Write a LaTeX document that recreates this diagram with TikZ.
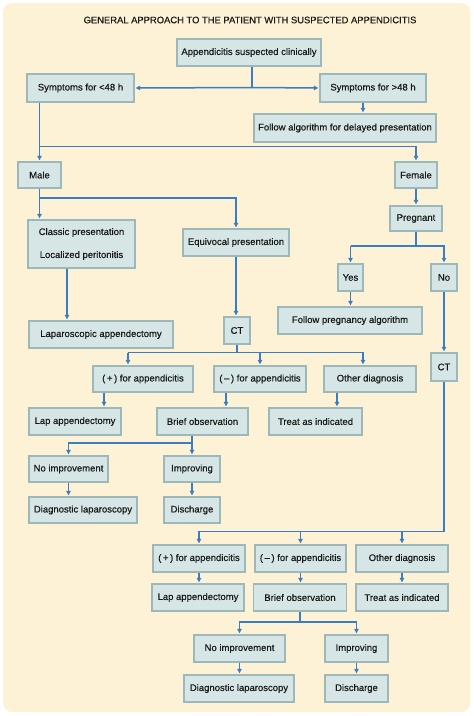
\documentclass[tikz,border=0pt]{standalone}
\usepackage{fontspec}
\setmainfont{Liberation Sans}
\newfontface\medfont{Liberation Sans}[FakeBold=0.45]
\usetikzlibrary{arrows.meta}
\definecolor{bgc}{HTML}{FEF2D6}
\definecolor{boxc}{HTML}{D6E6E6}
\definecolor{bordc}{HTML}{9CB8B8}
\definecolor{linec}{HTML}{3A7DC2}
\definecolor{txtc}{HTML}{1A1A1A}
\tikzset{
  box/.style={draw=bordc, fill=boxc, line width=1.8pt, inner sep=0pt, text=txtc,
    font=\medfont\fontsize{9.5pt}{11pt}\selectfont, align=center},
  ln/.style={draw=linec, line width=1.5pt},
  arr/.style={ln, -{Triangle[length=4.5pt,width=4.5pt]}, shorten >=0.8pt},
}
\begin{document}
\begin{tikzpicture}[x=1pt,y=-1pt]
\useasboundingbox (0,0) rectangle (474,716);
\fill[white] (0,0) rectangle (474,716);
\fill[bgc, rounded corners=9pt] (3,3) rectangle (470,712);
\node[text=txtc, font=\medfont\fontsize{9.4pt}{10pt}\selectfont] (title) at (250,20) {GENERAL APPROACH TO THE PATIENT WITH SUSPECTED APPENDICITIS};

% nodes
\node[box, minimum width=144pt, minimum height=27pt] (app) at (249,52.5) {Appendicitis suspected clinically};
\node[box, minimum width=107pt, minimum height=28pt] (s48l) at (80.5,88) {Symptoms for <48 h};
\node[box, minimum width=106pt, minimum height=28pt] (s48g) at (373,88) {Symptoms for >48 h};
\node[box, minimum width=182pt, minimum height=28pt] (delay) at (345,128) {Follow algorithm for delayed presentation};
\node[box, minimum width=43pt, minimum height=26pt] (male) at (39.5,175) {Male};
\node[box, minimum width=42pt, minimum height=26pt] (female) at (416,175) {Female};
\node[box, minimum width=52pt, minimum height=25pt] (preg) at (416,218.5) {Pregnant};
\node[box, minimum width=107pt, minimum height=48pt] (classic) at (81.5,244) {Classic presentation\\[12pt]Localized peritonitis};
\node[box, minimum width=106pt, minimum height=27pt] (equiv) at (236,242.5) {Equivocal presentation};
\node[box, minimum width=144pt, minimum height=27pt] (lapA) at (101,334.5) {Laparoscopic appendectomy};
\node[box, minimum width=26pt, minimum height=27pt] (ct1) at (237,330.5) {CT};
\node[box, minimum width=25pt, minimum height=27pt] (yes) at (350.5,277.5) {Yes};
\node[box, minimum width=26pt, minimum height=27pt] (no) at (444,277.5) {No};
\node[box, minimum width=144pt, minimum height=27pt] (pregalg) at (350,320.5) {Follow pregnancy algorithm};
\node[box, minimum width=26pt, minimum height=28pt] (ct2) at (444,367) {CT};

\node[box, minimum width=100pt, minimum height=26pt] (pos1) at (143,379) {(\,+\,) for appendicitis};
\node[box, minimum width=92pt, minimum height=26pt] (neg1) at (260,379) {(\,–\,) for appendicitis};
\node[box, minimum width=92pt, minimum height=26pt] (oth1) at (370,379) {Other diagnosis};
\node[box, minimum width=92pt, minimum height=27pt] (lap1) at (75,421.5) {Lap appendectomy};
\node[box, minimum width=91pt, minimum height=27pt] (brief1) at (202.5,421.5) {Brief observation};
\node[box, minimum width=93pt, minimum height=27pt] (treat1) at (315.5,421.5) {Treat as indicated};
\node[box, minimum width=79pt, minimum height=26pt] (noimp1) at (68.5,469) {No improvement};
\node[box, minimum width=56pt, minimum height=26pt] (impr1) at (192,469) {Improving};
\node[box, minimum width=108pt, minimum height=26pt] (diag1) at (83,510) {Diagnostic laparoscopy};
\node[box, minimum width=56pt, minimum height=26pt] (disc1) at (192,510) {Discharge};

\node[box, minimum width=92pt, minimum height=27pt] (pos2) at (199,558.5) {(\,+\,) for appendicitis};
\node[box, minimum width=91pt, minimum height=27pt] (neg2) at (300.5,558.5) {(\,–\,) for appendicitis};
\node[box, minimum width=92pt, minimum height=27pt] (oth2) at (402,558.5) {Other diagnosis};
\node[box, minimum width=92pt, minimum height=27pt] (lap2) at (198,597.5) {Lap appendectomy};
\node[box, minimum width=93pt, minimum height=27pt] (brief2) at (300,597.5) {Brief observation};
\node[box, minimum width=92pt, minimum height=27pt] (treat2) at (402,597.5) {Treat as indicated};
\node[box, minimum width=91pt, minimum height=27pt] (noimp2) at (239.5,648.5) {No improvement};
\node[box, minimum width=63pt, minimum height=27pt] (impr2) at (356.5,648.5) {Improving};
\node[box, minimum width=110pt, minimum height=27pt] (diag2) at (239,688.5) {Diagnostic laparoscopy};
\node[box, minimum width=63pt, minimum height=27pt] (disc2) at (356.5,688.5) {Discharge};

% junction levels
\coordinate (y1) at (0,87.5);
\coordinate (y2) at (0,146.5);
\coordinate (y3) at (0,198);
\coordinate (y4) at (0,246);
\coordinate (y5) at (0,352.5);
\coordinate (y6) at (0,443);
\coordinate (y7) at (0,531.5);
\coordinate (y8) at (0,622);

% connectors
\draw[ln] ([xshift=3pt]app.south) -- ([xshift=3pt]app.south |- y1);
\draw[arr] ([xshift=3pt]app.south |- y1) -- (s48l.east);
\draw[arr] ([xshift=3pt]app.south |- y1) -- (s48g.west);
\draw[arr] ([xshift=-10pt]s48g.south) -- ([xshift=-10pt]s48g.south |- delay.north);

\draw[ln] (male.north |- s48l.south) -- (male.north |- y2);
\draw[arr] (male.north |- y2) -- (male.north);
\draw[arr] (male.north |- y2) -| (female.north);

\draw[arr] (male.south) -- (male.south |- classic.north);
\draw[arr] (male.south |- y3) -| (equiv.north);
\draw[arr] ([xshift=-14.5pt]classic.south) -- ([xshift=-14.5pt]classic.south |- lapA.north);
\draw[arr] (equiv.south) -- (equiv.south |- ct1.north);

\draw[arr] (female.south) -- (preg.north);
\draw[ln] (preg.south) -- (preg.south |- y4);
\draw[arr] (yes.north |- y4) -- (yes.north);
\draw[arr] (yes.north |- y4) -| (no.north);
\draw[arr] (yes.south) -- (yes.south |- pregalg.north);
\draw[arr] (no.south) -- (ct2.north);

\draw[ln] (ct1.south) -- (ct1.south |- y5);
\draw[arr] ([xshift=-15pt]pos1.north |- y5) -- ([xshift=-15pt]pos1.north);
\draw[arr] ([xshift=-15pt]pos1.north |- y5) -| ([xshift=-7pt]oth1.north);
\draw[arr] (neg1.north |- y5) -- (neg1.north);

\draw[arr] ([xshift=29pt]lap1.north |- pos1.south) -- ([xshift=29pt]lap1.north);
\draw[arr] ([xshift=23.5pt]brief1.north |- neg1.south) -- ([xshift=23.5pt]brief1.north);
\draw[arr] ([xshift=21.5pt]treat1.north |- oth1.south) -- ([xshift=21.5pt]treat1.north);

\draw[ln] (impr1.north |- brief1.south) -- (impr1.north |- y6);
\draw[arr] (impr1.north |- y6) -- (impr1.north);
\draw[arr] (impr1.north |- y6) -| (noimp1.north);
\draw[arr] (noimp1.south) -- (noimp1.south |- diag1.north);
\draw[arr] (impr1.south) -- (disc1.north);

\draw[ln] (ct2.south) -- (ct2.south |- y7);
\draw[arr] (ct2.south |- y7) -| (pos2.north);
\draw[arr] (neg2.north |- y7) -- (neg2.north);
\draw[arr] (oth2.north |- y7) -- (oth2.north);

\draw[arr] (pos2.south) -- (pos2.south |- lap2.north);
\draw[arr] (neg2.south) -- (neg2.south |- brief2.north);
\draw[arr] (oth2.south) -- (treat2.north);

\draw[ln] (brief2.south) -- (brief2.south |- y8);
\draw[arr] (brief2.south |- y8) -| (noimp2.north);
\draw[arr] (brief2.south |- y8) -| (impr2.north);
\draw[arr] (noimp2.south) -- (noimp2.south |- diag2.north);
\draw[arr] (impr2.south) -- (disc2.north);
\end{tikzpicture}
\end{document}
